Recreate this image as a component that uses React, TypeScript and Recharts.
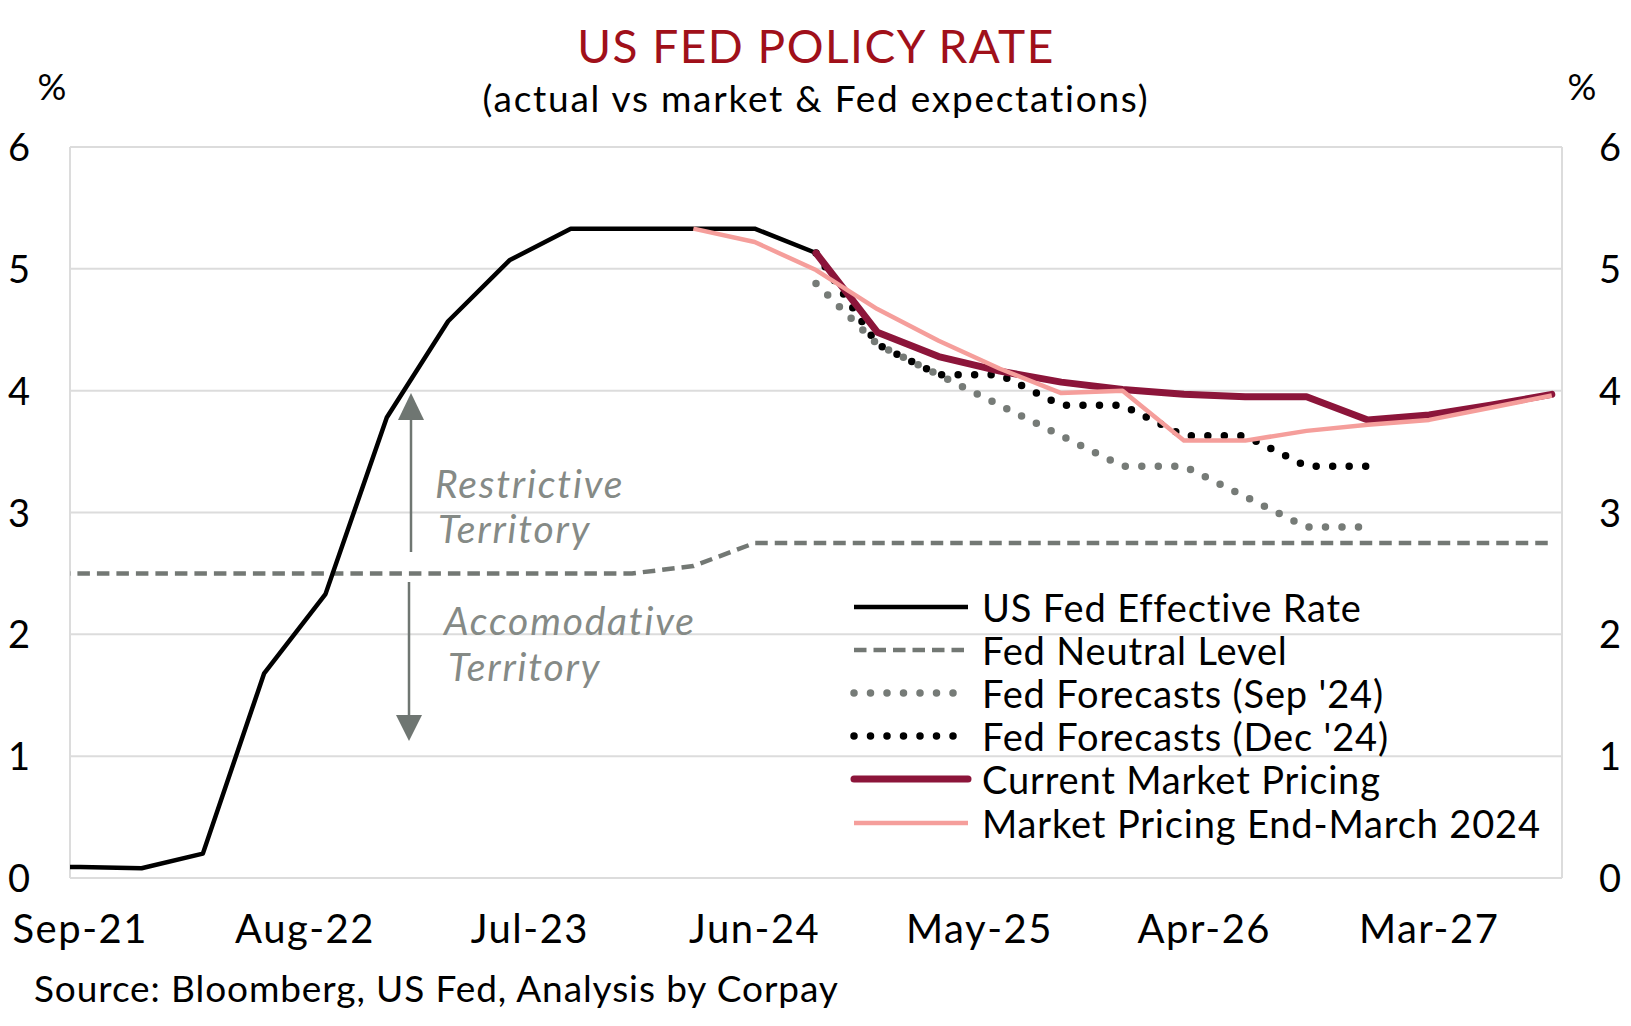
import { LineChart, Line, XAxis, YAxis, CartesianGrid, ReferenceLine, Legend } from "recharts";

const FONT = "Lato, 'Open Sans', sans-serif";

// quarter points, counted in months from Sep-21 (Jun-21 sits just off the left edge)
const QUARTER_MONTHS = [
    -3, 0, 3, 6, 9, 12, 15, 18, 21, 24, 27, 30, 33, 36, 39, 42, 45, 48, 51, 54, 57, 60, 63, 66, 69, 72,
];

const TICK_MONTHS = [0, 11, 22, 33, 44, 55, 66];
const TICK_LABELS = ["Sep-21", "Aug-22", "Jul-23", "Jun-24", "May-25", "Apr-26", "Mar-27"];
const Y_TICKS = [0, 1, 2, 3, 4, 5, 6];

const EFFECTIVE_RATE = [
    0.09, 0.09, 0.08, 0.2, 1.68, 2.33, 3.78, 4.57, 5.07, 5.33, 5.33, 5.33, 5.33, 5.13,
    null, null, null, null, null, null, null, null, null, null, null, null,
];
const NEUTRAL_LEVEL = [
    2.5, 2.5, 2.5, 2.5, 2.5, 2.5, 2.5, 2.5, 2.5, 2.5, 2.5, 2.56, 2.75, 2.75,
    2.75, 2.75, 2.75, 2.75, 2.75, 2.75, 2.75, 2.75, 2.75, 2.75, 2.75, 2.75,
];
const FED_SEP_24 = [
    null, null, null, null, null, null, null, null, null, null, null, null, null, 4.88,
    4.38, 4.13, 3.88, 3.63, 3.38, 3.38, 3.13, 2.88, 2.88, null, null, null,
];
const FED_DEC_24 = [
    null, null, null, null, null, null, null, null, null, null, null, null, null, 5.13,
    4.38, 4.13, 4.13, 3.88, 3.88, 3.63, 3.63, 3.38, 3.38, null, null, null,
];
const CURRENT_PRICING = [
    null, null, null, null, null, null, null, null, null, null, null, null, null, 5.13,
    4.48, 4.28, 4.16, 4.07, 4.01, 3.97, 3.95, 3.95, 3.76, 3.8, 3.88, 3.97,
];
const MARCH_24_PRICING = [
    null, null, null, null, null, null, null, null, null, null, null, 5.33, 5.22, 4.99,
    4.67, 4.41, 4.18, 3.98, 4.0, 3.59, 3.59, 3.67, 3.72, 3.76, 3.86, 3.96,
];

const rows = QUARTER_MONTHS.map((m, i) => ({
    m,
    effective: EFFECTIVE_RATE[i],
    neutral: NEUTRAL_LEVEL[i],
    sep24: FED_SEP_24[i],
    dec24: FED_DEC_24[i],
    current: CURRENT_PRICING[i],
    march24: MARCH_24_PRICING[i],
}));

const SERIES = [
    { key: "effective", name: "US Fed Effective Rate", color: "#000000", width: 4.5, dash: undefined, cap: "butt" },
    { key: "neutral", name: "Fed Neutral Level", color: "#737874", width: 4.5, dash: "12.5 7", cap: "butt" },
    { key: "sep24", name: "Fed Forecasts (Sep '24)", color: "#767b77", width: 7.5, dash: "0 16.5", cap: "round" },
    { key: "dec24", name: "Fed Forecasts (Dec '24)", color: "#000000", width: 7.5, dash: "0 16.5", cap: "round" },
    { key: "current", name: "Current Market Pricing", color: "#8c153a", width: 7, dash: undefined, cap: "round" },
    { key: "march24", name: "Market Pricing End-March 2024", color: "#f59e9b", width: 4.5, dash: undefined, cap: "butt" },
];

// draw order: dotted forecasts under the market pricing lines, pink on top
const DRAW_ORDER = ["neutral", "effective", "dec24", "sep24", "current", "march24"];

const W = 1631;
const H = 1026;

function YTick(props: any) {
    const { y, payload } = props;
    const style = { fontFamily: FONT, fontSize: 38, fill: "#000" };
    return (
        <g>
            <text x={19} y={y} dy={14} textAnchor="middle" style={style}>
                {payload.value}
            </text>
            <text x={1610} y={y} dy={14} textAnchor="middle" style={style}>
                {payload.value}
            </text>
        </g>
    );
}

function XTick(props: any) {
    const { x, payload } = props;
    const idx = TICK_MONTHS.indexOf(payload.value);
    return (
        <text
            x={x}
            y={943}
            textAnchor="middle"
            style={{ fontFamily: FONT, fontSize: 40, letterSpacing: 1.5, fill: "#000" }}
        >
            {TICK_LABELS[idx]}
        </text>
    );
}

function LegendRows() {
    return (
        <div style={{ fontFamily: FONT, fontSize: 38, letterSpacing: 0.85, color: "#000" }}>
            {SERIES.map((s) => (
                <div key={s.key} style={{ display: "flex", alignItems: "center", height: 43.2 }}>
                    <svg width={132} height={20} style={{ flexShrink: 0 }}>
                        <line
                            x1={4}
                            x2={118}
                            y1={10}
                            y2={10}
                            stroke={s.color}
                            strokeWidth={s.width}
                            strokeDasharray={s.dash}
                            strokeLinecap={s.cap as any}
                        />
                    </svg>
                    <span style={{ whiteSpace: "nowrap", lineHeight: 1 }}>{s.name}</span>
                </div>
            ))}
        </div>
    );
}

export default function App() {
    const byKey = Object.fromEntries(SERIES.map((s) => [s.key, s]));
    return (
        <div style={{ position: "absolute", left: 0, top: 0, width: W, height: H, background: "#fff" }}>
            <LineChart
                width={W}
                height={H}
                data={rows}
                margin={{ top: 147, right: 69, bottom: 88, left: 0 }}
            >
                <CartesianGrid stroke="#dcdcdc" strokeWidth={2} vertical={false} />
                <ReferenceLine x={-0.5} stroke="#dcdcdc" strokeWidth={2} />
                <ReferenceLine x={72.5} stroke="#dcdcdc" strokeWidth={2} />
                <XAxis
                    dataKey="m"
                    type="number"
                    domain={[-0.5, 72.5]}
                    allowDataOverflow
                    ticks={TICK_MONTHS}
                    tick={<XTick />}
                    axisLine={false}
                    tickLine={false}
                    height={60}
                />
                <YAxis
                    domain={[0, 6]}
                    ticks={Y_TICKS}
                    tick={<YTick />}
                    axisLine={false}
                    tickLine={false}
                    width={70}
                />
                {DRAW_ORDER.map((k) => {
                    const s = byKey[k];
                    return (
                        <Line
                            key={k}
                            dataKey={k}
                            name={s.name}
                            type="linear"
                            stroke={s.color}
                            strokeWidth={s.width}
                            strokeDasharray={s.dash}
                            strokeLinecap={s.cap as any}
                            strokeLinejoin="round"
                            dot={false}
                            activeDot={false}
                            isAnimationActive={false}
                        />
                    );
                })}
                <Legend
                    layout="vertical"
                    align="center"
                    verticalAlign="middle"
                    wrapperStyle={{ left: 850, top: 585, width: 740 }}
                    content={() => <LegendRows />}
                />
            </LineChart>

            {/* titles, axis units, source and the territory annotations */}
            <svg
                width={W}
                height={H}
                style={{ position: "absolute", left: 0, top: 0, pointerEvents: "none", fontFamily: FONT }}
            >
                <text x={816} y={63} textAnchor="middle" fontSize={46} letterSpacing={1.5} fill="#a0101a">
                    US FED POLICY RATE
                </text>
                <text x={816} y={112} textAnchor="middle" fontSize={37} letterSpacing={1.75} fill="#000">
                    (actual vs market &amp; Fed expectations)
                </text>
                <text x={52} y={100} textAnchor="middle" fontSize={36} fill="#000">
                    %
                </text>
                <text x={1582} y={100} textAnchor="middle" fontSize={36} fill="#000">
                    %
                </text>
                <text x={34} y={1002} fontSize={37} letterSpacing={0.9} fill="#000">
                    Source: Bloomberg, US Fed, Analysis by Corpay
                </text>

                <line x1={411} x2={411} y1={552} y2={415} stroke="#6f7672" strokeWidth={2.5} />
                <polygon points="411,393 398,420 424,420" fill="#6f7672" />
                <line x1={409} x2={409} y1={582} y2={718} stroke="#6f7672" strokeWidth={2.5} />
                <polygon points="409,741 396,715 422,715" fill="#6f7672" />

                <g fontStyle="italic" fontSize={39} letterSpacing={1.8} fill="#858a86">
                    <text x={435} y={498}>Restrictive</text>
                    <text x={438} y={543}>Territory</text>
                    <text x={444} y={635}>Accomodative</text>
                    <text x={448} y={681}>Territory</text>
                </g>
            </svg>
        </div>
    );
}
